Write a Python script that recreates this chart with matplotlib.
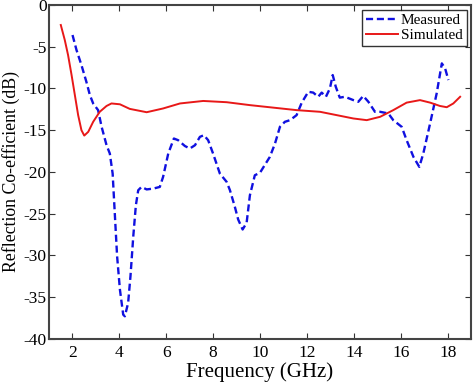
import matplotlib
matplotlib.use("Agg")
import matplotlib.pyplot as plt

# Measured reflection coefficient (blue dashed)
meas_f = [2.01, 2.18, 2.39, 2.6, 2.75, 2.89, 3.1, 3.25, 3.46, 3.6, 3.72, 3.81,
          3.91, 4.03, 4.17, 4.24, 4.38, 4.48, 4.6, 4.71, 4.81, 4.95, 5.17,
          5.45, 5.73, 5.87, 6.09, 6.33, 6.51, 6.8, 7.01, 7.23, 7.44, 7.61,
          7.79, 8.0, 8.29, 8.58, 8.72, 8.93, 9.07, 9.26, 9.43, 9.57, 9.78,
          10.0, 10.42, 10.64, 10.85, 11.06, 11.28, 11.56, 11.78, 12.06, 12.27,
          12.48, 12.63, 12.81, 12.98, 13.1, 13.23, 13.4, 13.62, 13.98, 14.19,
          14.4, 14.62, 14.9, 15.12, 15.47, 15.68, 16.04, 16.25, 16.54, 16.79,
          16.96, 17.25, 17.53, 17.75, 17.89, 18.03]
meas_db = [-3.6, -5.4, -7.2, -9.2, -10.8, -11.8, -12.6, -14.6, -16.8, -17.8,
           -20.2, -24.9, -30.1, -34.1, -37.1, -37.3, -35.7, -32.5, -27.7, -24.0,
           -22.2, -21.8, -22.1, -22.0, -21.8, -20.6, -17.8, -16.0, -16.2, -16.9,
           -17.2, -16.8, -15.8, -15.6, -16.2, -17.8, -20.2, -21.2, -22.2, -24.2,
           -25.7, -26.9, -26.1, -22.8, -20.4, -20.1, -18.2, -16.6, -14.6, -14.0,
           -13.8, -13.2, -11.7, -10.4, -10.5, -11.0, -10.5, -11.0, -10.0, -8.4,
           -9.8, -11.1, -11.0, -11.4, -11.6, -10.9, -11.6, -12.8, -12.8, -13.0,
           -13.8, -14.6, -16.2, -18.2, -19.4, -17.8, -14.2, -10.6, -7.0, -7.6,
           -9.0]

# Simulated (red solid)
sim_f = [1.51, 1.68, 1.82, 1.97, 2.11, 2.25, 2.39, 2.51, 2.68, 2.89, 3.17,
         3.46, 3.67, 4.03, 4.45, 5.17, 5.87, 6.59, 7.58, 8.58, 9.57, 11.56,
         12.56, 13.27, 13.98, 14.55, 15.12, 15.68, 16.25, 16.82, 17.25, 17.67,
         17.96, 18.24, 18.53]
sim_db = [-2.4, -4.2, -6.0, -8.4, -10.8, -13.2, -15.0, -15.65, -15.2, -14.0,
          -12.8, -12.1, -11.8, -11.9, -12.45, -12.85, -12.4, -11.8, -11.5,
          -11.65, -12.0, -12.6, -12.8, -13.2, -13.6, -13.8, -13.4, -12.6, -11.7,
          -11.4, -11.7, -12.1, -12.25, -11.8, -11.0]

plt.rcParams["font.family"] = "Liberation Serif"
plt.rcParams["axes.unicode_minus"] = False  # plain hyphen like the original

fig = plt.figure(figsize=(4.74, 3.82), dpi=100)
ax = fig.add_axes([0.103, 0.113, 0.891, 0.874])

ax.plot(meas_f, meas_db, color="#1010e0", linestyle="--", linewidth=1.7,
        dashes=(3.0, 1.6), label="Measured")
ax.plot(sim_f, sim_db, color="#e81818", linewidth=1.4, label="Simulated")

ax.set_xlim(1, 19)
ax.set_ylim(-40, 0)
ax.set_xticks(range(2, 19, 2))
ax.set_yticks(range(-40, 1, 5))
ax.tick_params(direction="in", top=True, right=True, labelsize=12.5,
               length=4, color="#333333")
ax.tick_params(axis="x", pad=4.5)
ax.tick_params(axis="y", pad=1.5)
for s in ax.spines.values():
    s.set_color("#444444")
    s.set_linewidth(1.5)

ax.set_xlabel("Frequency (GHz)", fontsize=15, labelpad=1)
ax.set_ylabel("Reflection Co-efficient (dB)", fontsize=12.8)
ax.yaxis.set_label_coords(-0.068, 0.5)

leg = ax.legend(loc="upper right", fontsize=11, frameon=True, fancybox=False,
                borderaxespad=0.3, handlelength=2.1, handletextpad=0.2,
                borderpad=0.25, labelspacing=0.1)
leg.get_frame().set_edgecolor("black")
leg.get_frame().set_linewidth(1.0)

fig.savefig("out.png", dpi=100)
